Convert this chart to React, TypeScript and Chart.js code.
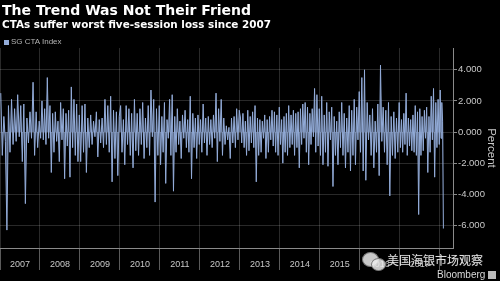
import React, { useEffect, useRef } from 'react';
import { Chart, registerables } from 'chart.js';

Chart.register(...registerables);

const titleText = 'The Trend Was Not Their Friend';
const subtitleText = 'CTAs suffer worst five-session loss since 2007';
const seriesName = 'SG CTA Index';
const yAxisTitle = 'Percent';
const watermarkText = '美国海银市场观察';
const sourceText = 'Bloomberg';

const yearTicks = [2007, 2008, 2009, 2010, 2011, 2012, 2013, 2014, 2015, 2016, 2017, 2018];
const yTicks = [-6, -4, -2, 0, 2, 4];
const lastDate = 2018.1; // data ends early February 2018

// SG CTA Index, five-session change (%) in time order
const v2007 = [2.5, -1.5, 1.0, -0.6, -6.3, 1.7, -1.3, 2.1, -0.8, 1.5, -0.6, 2.4, -0.3, 1.7, -1.9, 1.8, -4.6, 0.9, -0.7, 1.3, -0.4, 3.2, -1.5, 1.3, -1.0, 0.7];
const v2008 = [-0.4, 2.0, -0.5, 1.5, -0.8, 3.5, -0.4, 1.7, -2.6, 1.2, -1.3, 1.3, -0.6, 0.7, -1.9, 1.9, -0.5, 1.5, -3.0, 1.2, -0.9, 1.4, -2.9, 2.9, -1.0, 2.1, -1.5, 1.8, -1.9, 1.1];
const v2009 = [-1.9, 1.7, -1.3, 1.8, -2.6, 0.9, -1.0, 1.1, -0.8, 0.7, -0.3, 1.3, -1.6, 0.8, -0.7, 0.9, -1.0, 2.1, -0.8, 1.7, -1.3, 2.3, -3.2, 1.4, -1.7, 1.3, -2.8, 1.0];
const v2010 = [1.7, -1.3, 0.8, -2.1, 1.7, -0.8, 1.5, -1.5, 1.2, -2.3, 2.1, -1.2, 1.2, -1.5, 1.5, -0.8, 1.9, -1.7, 0.9, -1.0, 1.7, -1.5, 2.7, -0.3, 2.1, -4.5, 1.5, -1.5, 1.7];
const v2011 = [-2.1, 1.0, -1.3, 1.9, -3.3, 0.8, -0.4, 2.1, -1.5, 2.4, -3.8, 1.0, -1.3, 1.5, -0.8, 0.7, -1.7, 1.1, -0.4, 1.4, -1.0, 0.8, -1.3, 2.3, -3.0, 1.2, -1.0, 0.9, -1.7, 1.1, -0.8];
const v2012 = [0.8, -1.3, 1.8, -0.7, 0.9, -1.5, 1.0, -0.8, 0.8, -1.0, 1.1, -0.4, 2.5, -1.9, 1.5, -0.6, 2.1, -1.5, 0.9, -0.8, 0.4, -0.5, 0.3, -1.7, 0.9, -0.7, 1.0, -1.0, 1.5, -0.5, 1.4];
const v2013 = [0.9, -0.7, 1.2, -1.0, 0.7, -1.5, 1.4, -1.2, 1.0, -0.7, 1.3, -1.0, 1.7, -3.2, 0.9, -1.5, 0.8, -1.3, 0.7, -0.4, 1.1, -1.7, 0.8, -1.3, 1.0, -0.5, 1.4, -0.9, 1.3, -1.3, 1.1, -1.5, 1.6];
const v2014 = [-0.8, 0.8, -2.0, 1.0, -1.3, 1.2, -1.5, 1.7, -1.0, 1.1, -0.8, 1.4, -1.5, 1.2, -1.0, 1.3, -2.3, 1.5, -0.8, 1.8, -0.4, 1.9, -1.3, 1.6, -2.1, 1.2, -0.8, 1.5, -0.3, 2.8, -1.3, 2.4, -0.9, 1.5];
const v2015 = [-1.5, 2.3, -2.1, 1.1, -1.3, 1.9, -2.2, 1.3, -0.5, 1.6, -3.5, 1.0, -1.5, 0.7, -2.1, 1.3, -1.0, 1.9, -1.5, 1.2, -2.3, 0.9, -1.3, 1.7, -2.5, 1.4, -1.5, 2.1, -2.1, 1.6, -0.5, 2.6];
const v2016 = [-1.3, 3.5, -2.5, 4.0, -3.1, 1.9, -0.5, 1.1, -1.5, 1.5, -2.3, 0.7, -1.3, 1.8, -2.8, 4.3, -0.6, 1.6, -1.3, 1.4, -2.1, 1.9, -4.1, 1.0, -1.5, 1.3, -1.7, 0.9, -1.3, 1.9];
const v2017 = [-1.0, 0.8, -1.3, 1.2, -0.8, 2.5, -1.5, 0.9, -0.9, 0.8, -1.2, 1.1, -1.3, 1.7, -1.5, 1.3, -5.3, 1.5, -1.5, 1.0, -1.2, 1.4, -0.4, 1.6, -2.6, 1.0, -1.3, 2.3, -0.5, 2.8, -2.9, 1.9, -1.0, 2.1, -0.8];
const v2018 = [2.7, -0.4, 1.9, 0.7, -6.2];

const yearSeries: [number, number[]][] = [
  [2007, v2007], [2008, v2008], [2009, v2009], [2010, v2010], [2011, v2011], [2012, v2012],
  [2013, v2013], [2014, v2014], [2015, v2015], [2016, v2016], [2017, v2017], [2018, v2018],
];

function buildPoints() {
  const pts: { x: number; y: number }[] = [];
  yearSeries.forEach(([yr, vals]) => {
    const span = yr === 2018 ? lastDate - 2018 : 1;
    vals.forEach((v, i) => pts.push({ x: yr + (span * (i + 0.5)) / vals.length, y: v }));
  });
  return pts;
}

const LINE = '#93acd9';
const AXIS_TEXT = '#c9c9c9';
const GRID = 'rgba(255,255,255,0.16)';

export default function App() {
  const ref = useRef<HTMLCanvasElement | null>(null);

  useEffect(() => {
    document.body.style.margin = '0';
    document.body.style.background = '#000';
    if (!ref.current) return;
    const chart = new Chart(ref.current, {
      type: 'line',
      data: {
        datasets: [
          {
            label: seriesName,
            data: buildPoints(),
            borderColor: LINE,
            backgroundColor: 'rgba(147,172,217,0.55)',
            borderWidth: 1,
            pointRadius: 0,
            tension: 0,
            fill: 'origin',
          },
        ],
      },
      options: {
        animation: false,
        responsive: false,
        maintainAspectRatio: false,
        layout: { padding: { top: 48, left: 0, right: 0, bottom: 0 } },
        plugins: { legend: { display: false }, tooltip: { enabled: false }, title: { display: false } },
        scales: {
          x: {
            type: 'linear',
            min: 2007,
            max: 2018.33,
            afterBuildTicks: (s: any) => {
              s.ticks = yearTicks.map((v) => ({ value: v }));
            },
            afterFit: (s: any) => {
              s.height = 33;
            },
            grid: { color: GRID, tickColor: '#5a5a5a', tickLength: 22, drawTicks: true },
            border: { display: true, color: '#8a8a8a', width: 1 },
            ticks: {
              color: AXIS_TEXT,
              font: { family: 'Liberation Sans', size: 9 },
              labelOffset: 20,
              padding: -11,
              maxRotation: 0,
              autoSkip: false,
              callback: (v: any) => (Number(v) < 2018 ? String(v) : ''),
            },
          },
          y: {
            position: 'right',
            min: -7.45,
            max: 5.4,
            afterBuildTicks: (s: any) => {
              s.ticks = yTicks.map((v) => ({ value: v }));
            },
            afterFit: (s: any) => {
              s.width = 47;
            },
            grid: { color: GRID, tickColor: '#8a8a8a', tickLength: 4 },
            border: { display: true, color: '#8a8a8a', width: 1 },
            ticks: {
              color: AXIS_TEXT,
              font: { family: 'Liberation Sans', size: 9.5 },
              padding: 1,
              callback: (v: any) => Number(v).toFixed(3),
            },
            title: {
              display: true,
              text: yAxisTitle,
              color: AXIS_TEXT,
              font: { family: 'Liberation Sans', size: 11.5 },
              padding: 2,
            },
          },
        },
      },
    } as any);
    return () => chart.destroy();
  }, []);

  return (
    <div style={{ position: 'relative', width: 500, height: 281, background: '#000', overflow: 'hidden' }}>
      <canvas ref={ref} width={500} height={281} style={{ position: 'absolute', left: 0, top: 0, width: 500, height: 281 }} />
      <div style={{ position: 'absolute', left: 2, top: 2, color: '#fff', fontFamily: 'DejaVu Sans', fontWeight: 'bold', fontSize: 14, lineHeight: '17px', whiteSpace: 'nowrap' }}>
        {titleText}
      </div>
      <div style={{ position: 'absolute', left: 2, top: 18, color: '#fff', fontFamily: 'DejaVu Sans', fontWeight: 'bold', fontSize: 10.4, lineHeight: '13px', whiteSpace: 'nowrap' }}>
        {subtitleText}
      </div>
      <div style={{ position: 'absolute', left: 4, top: 37, display: 'flex', alignItems: 'center', whiteSpace: 'nowrap' }}>
        <span style={{ display: 'inline-block', width: 5, height: 5, background: LINE, marginRight: 2 }} />
        <span style={{ color: '#b5b5b5', fontFamily: 'Liberation Sans', fontSize: 8, lineHeight: '10px' }}>{seriesName}</span>
      </div>
      <div style={{ position: 'absolute', left: 362, top: 252, width: 15, height: 13, borderRadius: '50%', background: 'rgba(235,235,235,0.85)', border: '1px solid #777' }} />
      <div style={{ position: 'absolute', left: 371, top: 258, width: 13, height: 11, borderRadius: '50%', background: 'rgba(235,235,235,0.85)', border: '1px solid #777' }} />
      <div style={{ position: 'absolute', left: 387, top: 252, color: 'rgba(240,240,240,0.92)', fontFamily: 'Noto Sans CJK SC', fontSize: 12, lineHeight: '16px', whiteSpace: 'nowrap', textShadow: '0 0 1px #444' }}>
        {watermarkText}
      </div>
      <div style={{ position: 'absolute', left: 437, top: 269, color: '#d8d8d8', fontFamily: 'Liberation Sans', fontSize: 10, lineHeight: '12px', whiteSpace: 'nowrap' }}>
        {sourceText}
      </div>
      <div style={{ position: 'absolute', left: 488, top: 271, width: 8, height: 8, background: '#bbb' }} />
    </div>
  );
}
